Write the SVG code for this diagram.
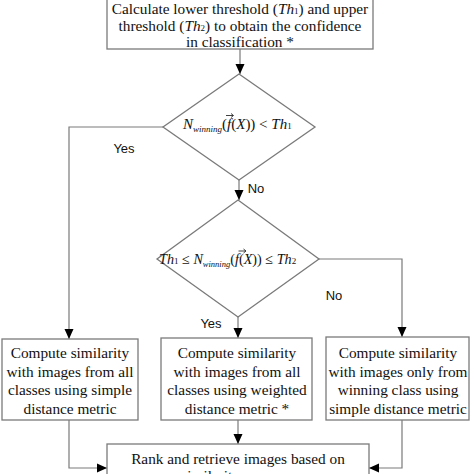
<svg xmlns="http://www.w3.org/2000/svg" width="474" height="474" viewBox="0 0 474 474">
<defs>
<marker id="ah" markerUnits="userSpaceOnUse" markerWidth="10" markerHeight="10" viewBox="0 0 10 10" refX="10" refY="5" orient="auto">
<path d="M0,0.5 L10,5 L0,9.5 Z" fill="#000"/>
</marker>
<style>
.box{fill:#fff;stroke:#7a7a7a;stroke-width:1.3}
.t{font-family:"Liberation Serif","Times New Roman",serif;font-size:15.3px;fill:#111;text-anchor:middle}
.m{font-family:"Liberation Serif","Times New Roman",serif;font-size:15px;fill:#111}
.i{font-style:italic}
.sub{font-size:9px}
.lbl{font-family:"Liberation Sans",Arial,sans-serif;font-size:13px;fill:#111;text-anchor:middle}
.c{fill:none;stroke:#7a7a7a;stroke-width:1.2}
</style>
</defs>
<rect width="474" height="474" fill="#fff"/>
<g id="connectors">
<path class="c" d="M240,49 V74" marker-end="url(#ah)"/>
<path class="c" d="M163,127 H69 V339" marker-end="url(#ah)"/>
<path class="c" d="M239,180 V200" marker-end="url(#ah)"/>
<path class="c" d="M319,259 H402 V337" marker-end="url(#ah)"/>
<path class="c" d="M238,317 V338" marker-end="url(#ah)"/>
<path class="c" d="M69,420 V468 H107" marker-end="url(#ah)"/>
<path class="c" d="M238,420 V444" marker-end="url(#ah)"/>
<path class="c" d="M402,420 V468 H369" marker-end="url(#ah)"/>
<text class="lbl" x="124" y="153">Yes</text>
<text class="lbl" x="256" y="193">No</text>
<text class="lbl" x="334" y="300">No</text>
<text class="lbl" x="211" y="328">Yes</text>
</g>
<g id="top">
<rect class="box" x="107" y="-2" width="266" height="51"/>
<text class="t" x="240" y="13.5">Calculate lower threshold (<tspan class="i">Th</tspan><tspan class="sub">1</tspan>) and upper</text>
<text class="t" x="240" y="31">threshold (<tspan class="i">Th</tspan><tspan class="sub">2</tspan>) to obtain the confidence</text>
<text class="t" x="240" y="47">in classification *</text>
</g>
<g id="decision1">
<polygon class="box" points="239,74 315,127 239,180 163,127"/>
<text class="m" x="183" y="129"><tspan class="i">N</tspan><tspan class="i sub" dy="3">winning</tspan><tspan dy="-3">(</tspan><tspan class="i">f</tspan>(<tspan class="i">X</tspan>)) &lt; <tspan class="i">Th</tspan><tspan class="sub">1</tspan></text>
<path d="M226,115.5 H233 M231,113.5 L233.5,115.5 L231,117.5" fill="none" stroke="#111" stroke-width="0.8"/>
</g>
<g id="decision2">
<polygon class="box" points="238,200 319,259 238,317 157,259"/>
<text class="m" x="159" y="264" style="font-size:14.2px"><tspan class="i">Th</tspan><tspan class="sub">1</tspan> ≤ <tspan class="i">N</tspan><tspan class="i sub" dy="3" style="font-size:8.5px">winning</tspan><tspan dy="-3">(</tspan><tspan class="i">f</tspan>(<tspan class="i">X</tspan>)) ≤ <tspan class="i">Th</tspan><tspan class="sub">2</tspan></text>
<path d="M238.5,251 H245.5 M243.5,249 L246,251 L243.5,253" fill="none" stroke="#111" stroke-width="0.8"/>
</g>
<g id="left">
<rect class="box" x="2" y="339" width="136" height="81"/>
<text class="t" x="70" y="358">Compute similarity</text>
<text class="t" x="70" y="376.5">with images from all</text>
<text class="t" x="70" y="395">classes using simple</text>
<text class="t" x="70" y="413.5">distance metric</text>
</g>
<g id="middle">
<rect class="box" x="161" y="338" width="151" height="82"/>
<text class="t" x="237" y="358">Compute similarity</text>
<text class="t" x="237" y="376.5">with images from all</text>
<text class="t" x="237" y="395">classes using weighted</text>
<text class="t" x="237" y="413.5">distance metric *</text>
</g>
<g id="right">
<rect class="box" x="326" y="337" width="143" height="83"/>
<text class="t" x="398" y="358">Compute similarity</text>
<text class="t" x="398" y="376.5">with images only from</text>
<text class="t" x="398" y="395">winning class using</text>
<text class="t" x="398" y="413.5">simple distance metric</text>
</g>
<g id="bottom">
<rect class="box" x="107" y="444" width="262" height="40"/>
<text class="t" x="238" y="464">Rank and retrieve images based on</text>
<text class="t" x="238" y="481">similarity measure</text>
</g>
</svg>
